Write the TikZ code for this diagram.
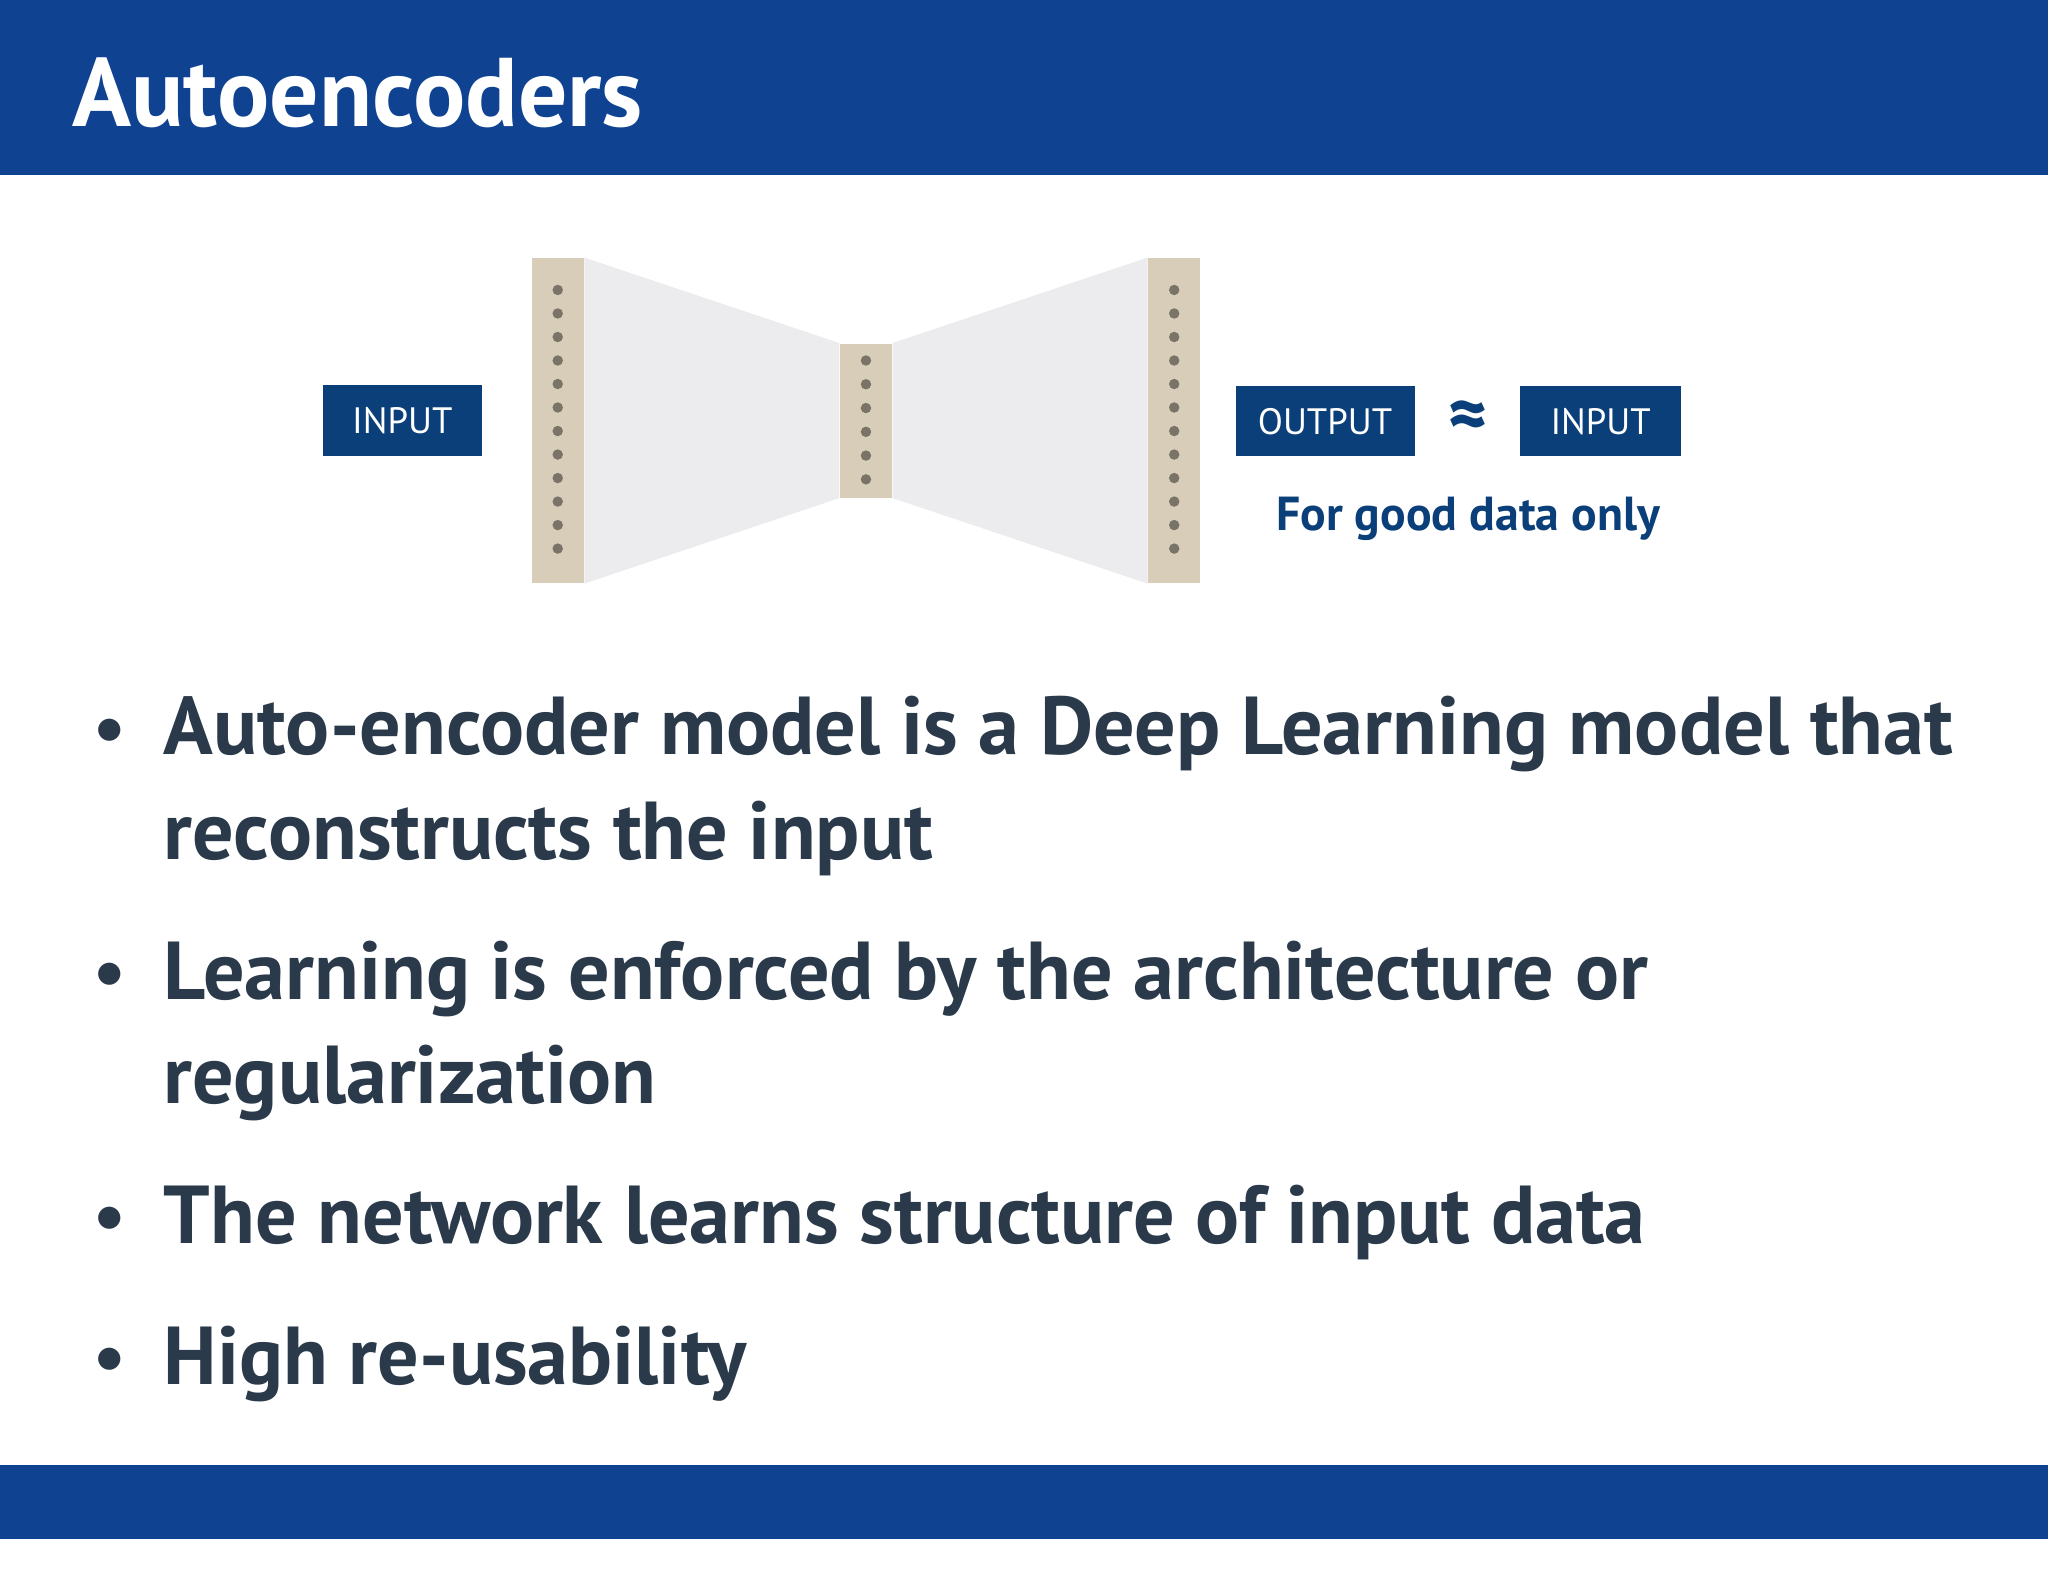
\documentclass[tikz,border=0pt]{standalone}
\usepackage{fontspec}
\setmainfont{PT Sans}
\definecolor{barblue}{HTML}{0F4391}
\definecolor{boxblue}{HTML}{0B3F7A}
\definecolor{layertan}{HTML}{D8CDB8}
\definecolor{dotgrey}{HTML}{7A7468}
\definecolor{funnel}{HTML}{ECECEE}
\definecolor{slate}{HTML}{2B3A4A}
\tikzset{
  layer/.style={fill=layertan,draw=none,inner sep=0pt,minimum width=0.8cm},
  label box/.style={fill=boxblue,text=white,inner sep=0pt,minimum height=1.08cm,font=\fontsize{16}{18}\selectfont},
  bullet text/.style={anchor=base west,text=slate,inner sep=0pt,font=\fontsize{35.8}{38}\selectfont\bfseries},
  dot/.style={circle,fill=dotgrey,inner sep=0pt,minimum size=0.16cm}
}
\begin{document}
\begin{tikzpicture}[x=0.02cm,y=-0.02cm]
\useasboundingbox[fill=white] (0,0) rectangle (1568,1211);
% header and footer bars
\fill[barblue] (0,0) rectangle (1568,134);
\fill[barblue] (0,1122) rectangle (1568,1178);
\node[anchor=base west,text=white,inner sep=0pt,font=\fontsize{42.5}{46}\selectfont\bfseries] (title) at (55,97) {Autoencoders};

% layers
\node[layer,minimum height=4.98cm] (enc) at (427,322) {};
\node[layer,minimum height=2.36cm] (code) at (663,322) {};
\node[layer,minimum height=4.98cm] (dec) at (899,322) {};
\fill[funnel] (enc.north east) -- (code.north west) -- (code.south west) -- (enc.south east) -- cycle;
\fill[funnel] (code.north east) -- (dec.north west) -- (dec.south west) -- (code.south east) -- cycle;
\foreach \k in {0,...,11} {
  \node[dot] at (427,222+18*\k) {};
  \node[dot] at (899,222+18*\k) {};
}
\foreach \k in {0,...,5}
  \node[dot] at (663,276+18.2*\k) {};

% labels
\node[label box,minimum width=2.44cm] (input) at (308,322) {INPUT};
\node[label box,minimum width=2.74cm] (output) at (1014.5,322.5) {OUTPUT};
\node[text=boxblue,font=\fontsize{32}{32}\selectfont\bfseries] (approx) at (1124,322) {≈};
\node[label box,minimum width=2.46cm] (target) at (1225.5,322.5) {INPUT};
\node[text=boxblue,font=\fontsize{20.8}{22}\selectfont\bfseries] (note) at (1124,397) {For good data only};

% bullets
\foreach \y in {578,765,952,1060}
  \node[text=slate,font=\fontsize{33}{36}\selectfont] at (84,\y-18) {$\bullet$};
\node[bullet text] (b1) at (125,578) {Auto-encoder model is a Deep Learning model that};
\node[bullet text] (b1b) at (125,658) {reconstructs the input};
\node[bullet text] (b2) at (125,765) {Learning is enforced by the architecture or};
\node[bullet text] (b2b) at (125,845) {regularization};
\node[bullet text] (b3) at (125,952) {The network learns structure of input data};
\node[bullet text] (b4) at (125,1060) {High re-usability};
\end{tikzpicture}
\end{document}
